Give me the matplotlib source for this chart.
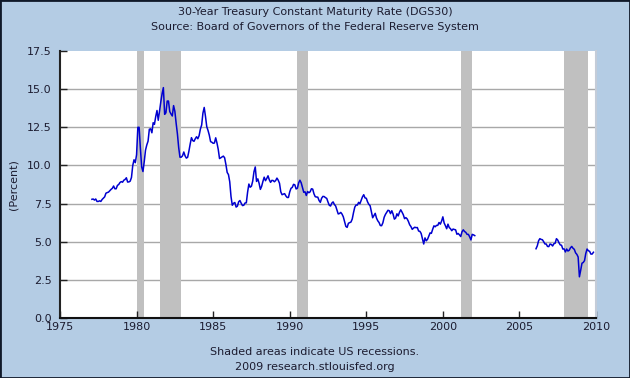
import numpy as np
import matplotlib
matplotlib.use("Agg")
import matplotlib.pyplot as plt
from matplotlib.patches import Rectangle

# monthly values (percent)
# segment 1: Feb 1977 .. Feb 2002
seg1_start = 1977 + 1 / 12
seg1 = [
    7.78, 7.80, 7.73, 7.80, 7.64, 7.64, 7.68, 7.64, 7.77, 7.85, 7.94,
    8.18, 8.22, 8.25, 8.34, 8.43, 8.50, 8.65, 8.47, 8.47, 8.69, 8.75, 8.88,
    8.94, 8.90, 9.03, 9.08, 9.19, 8.91, 8.92, 8.97, 9.21, 9.99, 10.37, 10.18,
    10.70, 12.50, 12.50, 11.10, 9.90, 9.60, 10.24, 11.00, 11.34, 11.59, 12.37, 12.40,
    12.14, 12.80, 12.69, 13.20, 13.60, 12.96, 13.59, 14.17, 14.70, 15.10, 13.35, 13.45,
    14.22, 14.22, 13.53, 13.37, 13.24, 13.92, 13.55, 12.77, 12.07, 11.17, 10.54, 10.54,
    10.63, 10.88, 10.63, 10.48, 10.53, 10.93, 11.40, 11.82, 11.63, 11.58, 11.75, 11.88,
    11.75, 11.95, 12.38, 12.65, 13.43, 13.80, 13.21, 12.54, 12.29, 11.98, 11.56, 11.52,
    11.45, 11.47, 11.81, 11.47, 11.05, 10.45, 10.50, 10.56, 10.61, 10.50, 10.06, 9.54,
    9.40, 8.93, 7.96, 7.39, 7.52, 7.57, 7.27, 7.33, 7.62, 7.70, 7.52, 7.37,
    7.39, 7.54, 7.55, 8.25, 8.78, 8.57, 8.64, 8.97, 9.59, 9.90, 8.95, 9.12,
    8.83, 8.43, 8.63, 8.95, 9.23, 9.00, 9.14, 9.32, 9.06, 8.89, 9.02, 9.01,
    8.93, 9.01, 9.17, 9.03, 8.83, 8.27, 8.08, 8.12, 8.15, 8.00, 7.90, 7.90,
    8.26, 8.50, 8.56, 8.76, 8.73, 8.46, 8.50, 8.86, 9.03, 8.86, 8.54, 8.24,
    8.27, 8.03, 8.29, 8.21, 8.27, 8.47, 8.45, 8.14, 7.95, 7.93, 7.92, 7.70,
    7.58, 7.85, 7.97, 7.96, 7.89, 7.84, 7.60, 7.39, 7.34, 7.53, 7.61, 7.44,
    7.34, 7.09, 6.82, 6.85, 6.92, 6.81, 6.63, 6.32, 6.00, 5.94, 6.21, 6.25,
    6.29, 6.49, 6.91, 7.27, 7.41, 7.40, 7.58, 7.49, 7.71, 7.94, 8.08, 7.87,
    7.85, 7.61, 7.45, 7.36, 6.95, 6.57, 6.72, 6.86, 6.55, 6.37, 6.26, 6.06,
    6.05, 6.24, 6.60, 6.79, 6.93, 7.06, 7.03, 6.84, 7.03, 6.81, 6.48, 6.55,
    6.83, 6.69, 6.93, 7.09, 6.94, 6.77, 6.51, 6.58, 6.50, 6.33, 6.11, 5.99,
    5.81, 5.89, 5.95, 5.92, 5.93, 5.70, 5.68, 5.54, 5.20, 4.85, 5.25, 5.06,
    5.16, 5.37, 5.58, 5.55, 5.81, 6.04, 5.98, 6.07, 6.07, 6.26, 6.15, 6.35,
    6.63, 6.23, 6.05, 5.85, 6.15, 5.93, 5.85, 5.72, 5.83, 5.80, 5.78, 5.49,
    5.54, 5.45, 5.34, 5.65, 5.78, 5.67, 5.61, 5.48, 5.48, 5.32, 5.12, 5.48,
    5.45, 5.40,
]
# segment 2: Feb 2006 .. Nov 2009
seg2_start = 2006 + 1 / 12
seg2 = [
    4.54, 4.73, 5.06, 5.20, 5.15, 5.13, 5.00, 4.85, 4.85, 4.69, 4.68,
    4.85, 4.82, 4.72, 4.87, 4.90, 5.20, 5.11, 4.93, 4.79, 4.77, 4.52, 4.53,
    4.33, 4.52, 4.39, 4.44, 4.60, 4.69, 4.57, 4.50, 4.27, 4.17, 4.00, 2.70,
    3.13, 3.59, 3.64, 3.76, 4.23, 4.52, 4.41, 4.37, 4.19, 4.19, 4.31,
]

recessions = [(1980.0, 1980.5), (1981.5, 1982.88), (1990.5, 1991.2),
              (2001.17, 2001.88), (2007.92, 2009.5)]
xticks = [1975, 1980, 1985, 1990, 1995, 2000, 2005, 2010]
yticks = [0.0, 2.5, 5.0, 7.5, 10.0, 12.5, 15.0, 17.5]

bg = "#b4cce4"
txt = "#1c1c30"

fig = plt.figure(figsize=(6.3, 3.78), dpi=100, facecolor=bg)
ax = fig.add_axes([60 / 630, 1 - 318 / 378, 536 / 630, 267 / 378])
ax.set_facecolor("white")

for a, b in recessions:
    ax.axvspan(a, b, color="#c0c0c0", lw=0, zorder=1)

for y in yticks[1:-1]:
    ax.axhline(y, color="#a8a8a8", lw=1, zorder=0.5)

x1 = seg1_start + np.arange(len(seg1)) / 12
x2 = seg2_start + np.arange(len(seg2)) / 12
ax.plot(x1, seg1, color="#0000d0", lw=1.1, zorder=3)
ax.plot(x2, seg2, color="#0000d0", lw=1.1, zorder=3)

ax.set_xlim(1975, 2010)
ax.set_ylim(0, 17.5)
ax.set_xticks(xticks)
ax.set_yticks(yticks)
ax.set_xticklabels([str(t) for t in xticks])
ax.set_yticklabels([f"{t:.1f}" for t in yticks])
ax.tick_params(direction="in", length=5, width=1, colors="#222222",
               labelcolor=txt, labelsize=8)
ax.tick_params(axis="y", pad=6)
ax.tick_params(axis="x", pad=3)

ax.spines["top"].set_visible(False)
ax.spines["right"].set_color("#c4ccd8")
ax.spines["right"].set_linewidth(1.5)
ax.spines["left"].set_color("#222222")
ax.spines["left"].set_linewidth(1.5)
ax.spines["bottom"].set_color("#111111")
ax.spines["bottom"].set_linewidth(1.5)

ax.set_ylabel("(Percent)", fontsize=8, color=txt, labelpad=6)

fig.text(0.5, 1 - 12 / 378, "30-Year Treasury Constant Maturity Rate (DGS30)",
         ha="center", va="center", fontsize=8, color=txt)
fig.text(0.5, 1 - 27 / 378, "Source: Board of Governors of the Federal Reserve System",
         ha="center", va="center", fontsize=8, color=txt)
fig.text(0.5, 1 - 352 / 378, "Shaded areas indicate US recessions.",
         ha="center", va="center", fontsize=8, color=txt)
fig.text(0.5, 1 - 367 / 378, "2009 research.stlouisfed.org",
         ha="center", va="center", fontsize=8, color=txt)

fig.patches.append(Rectangle((0, 0), 1, 1, transform=fig.transFigure,
                             fill=False, edgecolor="#101828", lw=2))

fig.savefig("out.png", dpi=100, facecolor=bg)
